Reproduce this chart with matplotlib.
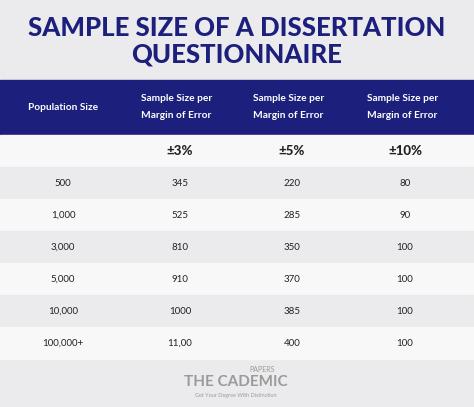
import matplotlib
matplotlib.use("Agg")
import matplotlib.pyplot as plt
from matplotlib.patches import Rectangle

title_lines = ["SAMPLE SIZE OF A DISSERTATION", "QUESTIONNAIRE"]
header_first = "Population Size"
header_other = "Sample Size per\nMargin of Error"
margins = ["±3%", "±5%", "±10%"]
population = ["500", "1,000", "3,000", "5,000", "10,000", "100,000+"]
ss_3 = ["345", "525", "810", "910", "1000", "11,00"]
ss_5 = ["220", "285", "350", "370", "385", "400"]
ss_10 = ["80", "90", "100", "100", "100", "100"]

W, H = 474, 407
NAVY = "#1c1f7c"
GRAY = "#ebebed"
WHITE = "#f8f8f8"
plt.rcParams['font.family'] = ['Lato', 'DejaVu Sans']

fig = plt.figure(figsize=(W/100, H/100), dpi=100)
ax = fig.add_axes([0, 0, 1, 1])
ax.set_xlim(0, W); ax.set_ylim(H, 0); ax.axis("off")
fig.patch.set_facecolor(GRAY)

ax.text(W/2, 28, title_lines[0], ha="center", va="center", fontsize=18.5, fontweight="black", color=NAVY)
ax.text(W/2, 55, title_lines[1], ha="center", va="center", fontsize=18.5, fontweight="black", color=NAVY)

ax.add_patch(Rectangle((0, 80), W, 55, color=NAVY))
ax.text(63, 107, header_first, ha="center", va="center", fontsize=7.3, fontweight="bold", color="white")
for x in [141, 253, 367]:
    ax.text(x, 107, header_other, ha="left", va="center", fontsize=7.3, fontweight="bold", color="white", linespacing=2.2)

ax.add_patch(Rectangle((0, 135), W, 32, color=WHITE))
cols = [180, 292, 405]
for x, m in zip(cols, margins):
    ax.text(x, 151, m, ha="center", va="center", fontsize=9.5, fontweight="black", color="#222222")

y0, rh = 167, 32
for i, (p, a, b, c) in enumerate(zip(population, ss_3, ss_5, ss_10)):
    y = y0 + i*rh
    ax.add_patch(Rectangle((0, y), W, rh, color=GRAY if i % 2 == 0 else WHITE))
    yc = y + rh/2
    ax.text(63, yc, p, ha="center", va="center", fontsize=7, color="#222222")
    for x, v in zip(cols, [a, b, c]):
        ax.text(x, yc, v, ha="center", va="center", fontsize=7, color="#222222")

ax.text(236, 382, "THE CADEMIC", ha="center", va="center", fontsize=11, fontweight="bold", color="#9a9a9a")
ax.text(262, 370, "PAPERS", ha="center", va="center", fontsize=5, color="#9a9a9a")
ax.text(236, 395, "Get Your Degree With Distinction", ha="center", va="center", fontsize=4, color="#9a9a9a")

fig.savefig("out.png", dpi=100, facecolor=GRAY)
